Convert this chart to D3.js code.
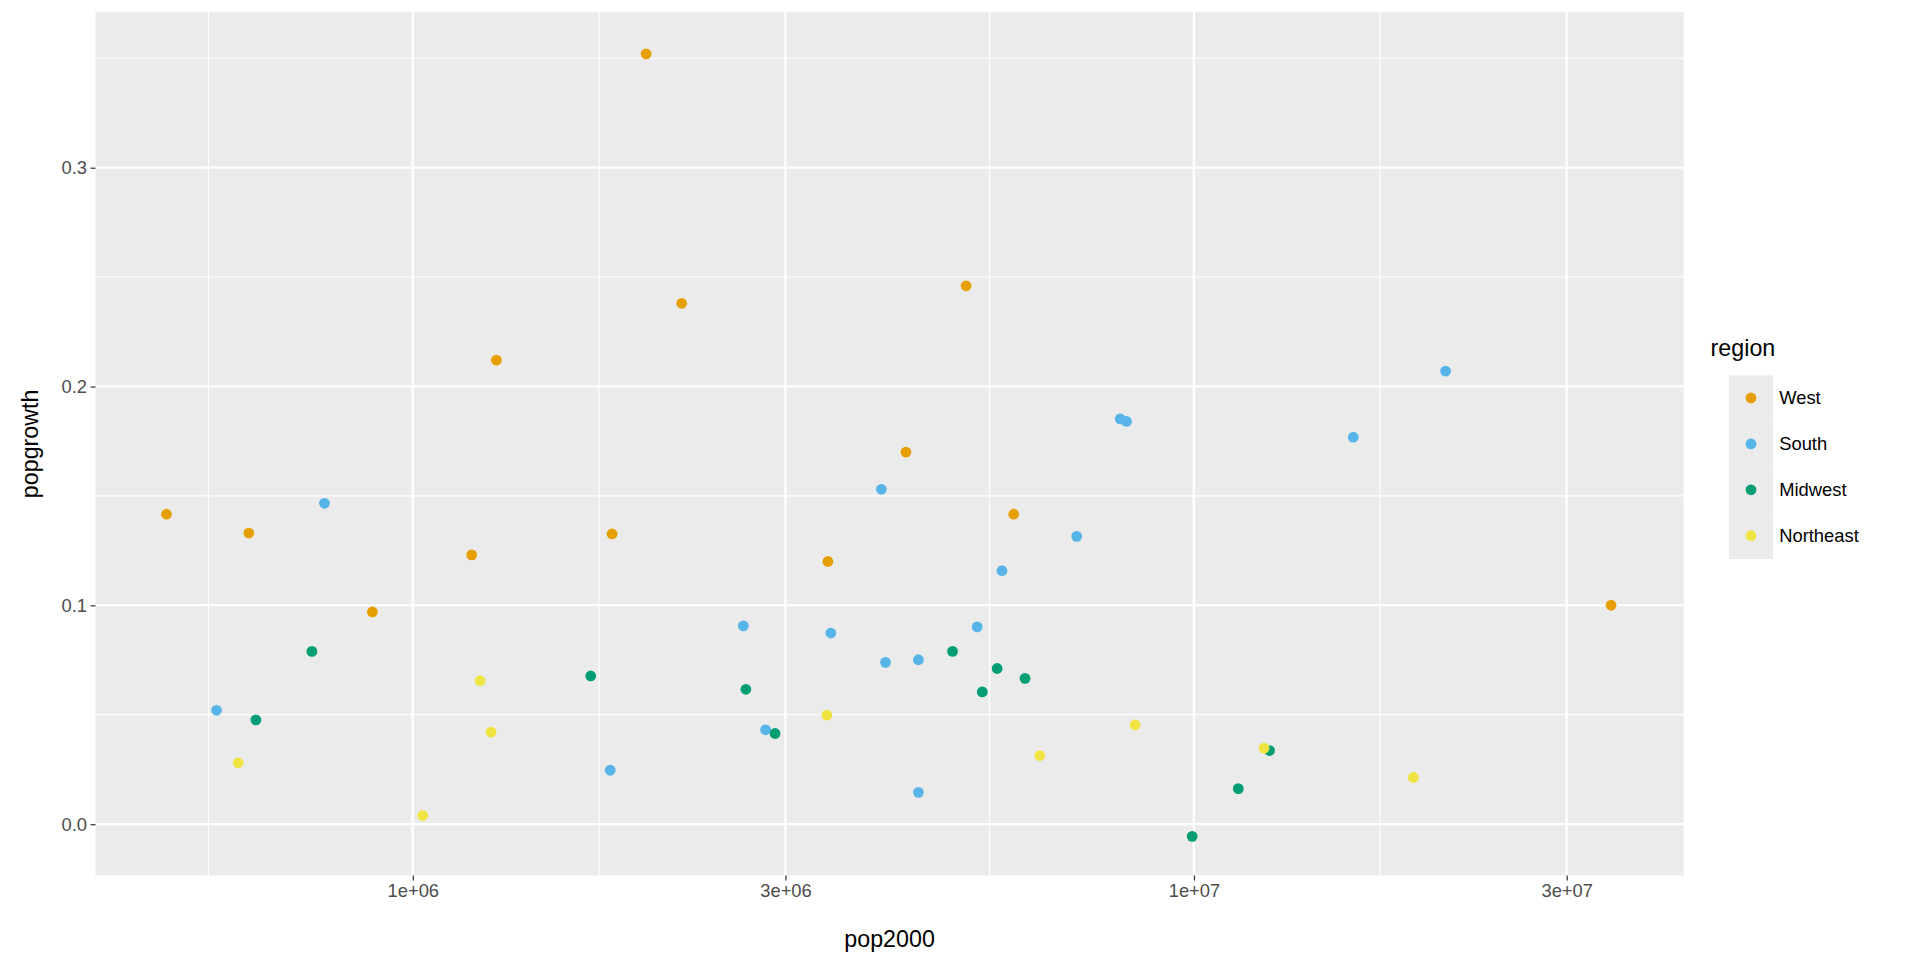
<!DOCTYPE html>
<html><head><meta charset="utf-8">
<script src="https://cdn.jsdelivr.net/npm/d3@7"></script>
<style>body{margin:0;background:#fff}text{font-family:"Liberation Sans",Arial,sans-serif}</style>
</head><body><svg id="c" width="1920" height="960" viewBox="0 0 1568 784"></svg>
<script>
const regions = ["West","South","Midwest","Northeast"];
const colors = ["#E69F00","#56B4E9","#009E73","#F0E442"];
// pop2000 in millions, popgrowth
const westPop = [0.484,0.617,0.888,1.19,1.28,1.80,1.99,2.21,3.40,4.28,5.11,5.88,34.2];
const westGrowth = [0.1416,0.133,0.097,0.123,0.212,0.1326,0.352,0.238,0.120,0.170,0.246,0.1416,0.100];
const southPop = [0.561,0.771,1.79,2.65,2.83,3.43,3.98,4.03,4.44,4.44,5.28,5.68,7.08,8.05,8.20,16.0,21.0];
const southGrowth = [0.052,0.1466,0.0246,0.0906,0.0431,0.0873,0.153,0.0739,0.0751,0.0145,0.0901,0.1158,0.1315,0.1852,0.184,0.1768,0.207];
const midwestPop = [0.630,0.743,1.69,2.67,2.91,4.91,5.36,5.60,6.08,9.95,11.4,12.5];
const midwestGrowth = [0.0476,0.0789,0.0677,0.0616,0.0414,0.0789,0.0604,0.0711,0.0666,-0.0056,0.0162,0.0336];
const northeastPop = [0.598,1.03,1.22,1.26,3.39,6.35,8.41,12.3,19.1];
const northeastGrowth = [0.028,0.0039,0.0655,0.042,0.0498,0.0313,0.0453,0.0347,0.0213];
const xTicks = [1e6,3e6,1e7,3e7];
const xTickLabels = ["1e+06","3e+06","1e+07","3e+07"];
const yTicks = [0,0.1,0.2,0.3];
const yTickLabels = ["0.0","0.1","0.2","0.3"];

const svg = d3.select("#c");
const L=78,R=1375,T=10,B=715;
const x = d3.scaleLog().domain([Math.pow(10,5.594),Math.pow(10,7.627)]).range([L,R]);
const y = d3.scaleLinear().domain([-0.0235,0.371]).range([B,T]);
svg.append("rect").attr("x",L).attr("y",T).attr("width",R-L).attr("height",B-T).attr("fill","#EBEBEB");
const lx=xTicks.map(v=>Math.log10(v)); const allLx=[Math.log10(3e5)].concat(lx);
const xMinor=[]; for(let i=0;i<allLx.length-1;i++) xMinor.push(Math.pow(10,(allLx[i]+allLx[i+1])/2));
svg.selectAll(".xm").data(xMinor).join("line").attr("x1",d=>x(d)).attr("x2",d=>x(d)).attr("y1",T).attr("y2",B).attr("stroke","#fff").attr("stroke-width",0.9);
const yMinor=[-0.05,0.05,0.15,0.25,0.35];
svg.selectAll(".ym").data(yMinor).join("line").attr("y1",d=>y(d)).attr("y2",d=>y(d)).attr("x1",L).attr("x2",R).attr("stroke","#fff").attr("stroke-width",0.9);
svg.selectAll(".xg").data(xTicks).join("line").attr("x1",d=>x(d)).attr("x2",d=>x(d)).attr("y1",T).attr("y2",B).attr("stroke","#fff").attr("stroke-width",1.8);
svg.selectAll(".yg").data(yTicks).join("line").attr("y1",d=>y(d)).attr("y2",d=>y(d)).attr("x1",L).attr("x2",R).attr("stroke","#fff").attr("stroke-width",1.8);
const xa=svg.append("g").attr("transform",`translate(0,${B})`).call(d3.axisBottom(x).tickValues(xTicks).tickFormat((d,i)=>xTickLabels[i]).tickSizeOuter(0).tickSize(4).tickPadding(3));
const ya=svg.append("g").attr("transform",`translate(${L},0)`).call(d3.axisLeft(y).tickValues(yTicks).tickFormat((d,i)=>yTickLabels[i]).tickSizeOuter(0).tickSize(4).tickPadding(3));
[xa,ya].forEach(a=>{a.select(".domain").remove();a.selectAll("line").attr("stroke","#333").attr("stroke-width",1);a.selectAll("text").attr("fill","#4D4D4D").style("font-size","15px");});
const series=[[westPop,westGrowth],[southPop,southGrowth],[midwestPop,midwestGrowth],[northeastPop,northeastGrowth]];
series.forEach((s,i)=>{
  svg.append("g").selectAll("circle").data(s[0].map((p,j)=>[p*1e6,s[1][j]])).join("circle")
    .attr("cx",d=>x(d[0])).attr("cy",d=>y(d[1])).attr("r",4.4).attr("fill",colors[i]);
});
svg.append("text").attr("x",(L+R)/2).attr("y",773).attr("text-anchor","middle").style("font-size","19px").attr("fill","#000").text("pop2000");
svg.append("text").attr("transform",`translate(31,${(T+B)/2}) rotate(-90)`).attr("text-anchor","middle").style("font-size","19px").text("popgrowth");
svg.append("text").attr("x",1397).attr("y",291).style("font-size","19px").text("region");
regions.forEach((r,i)=>{
  const cy=325+i*37.5;
  svg.append("rect").attr("x",1412).attr("y",cy-18.5).attr("width",36).attr("height",37.5).attr("fill","#EBEBEB");
  svg.append("circle").attr("cx",1430).attr("cy",cy).attr("r",4.4).attr("fill",colors[i]);
  svg.append("text").attr("x",1453).attr("y",cy+5).style("font-size","15px").text(r);
});
</script></body></html>
